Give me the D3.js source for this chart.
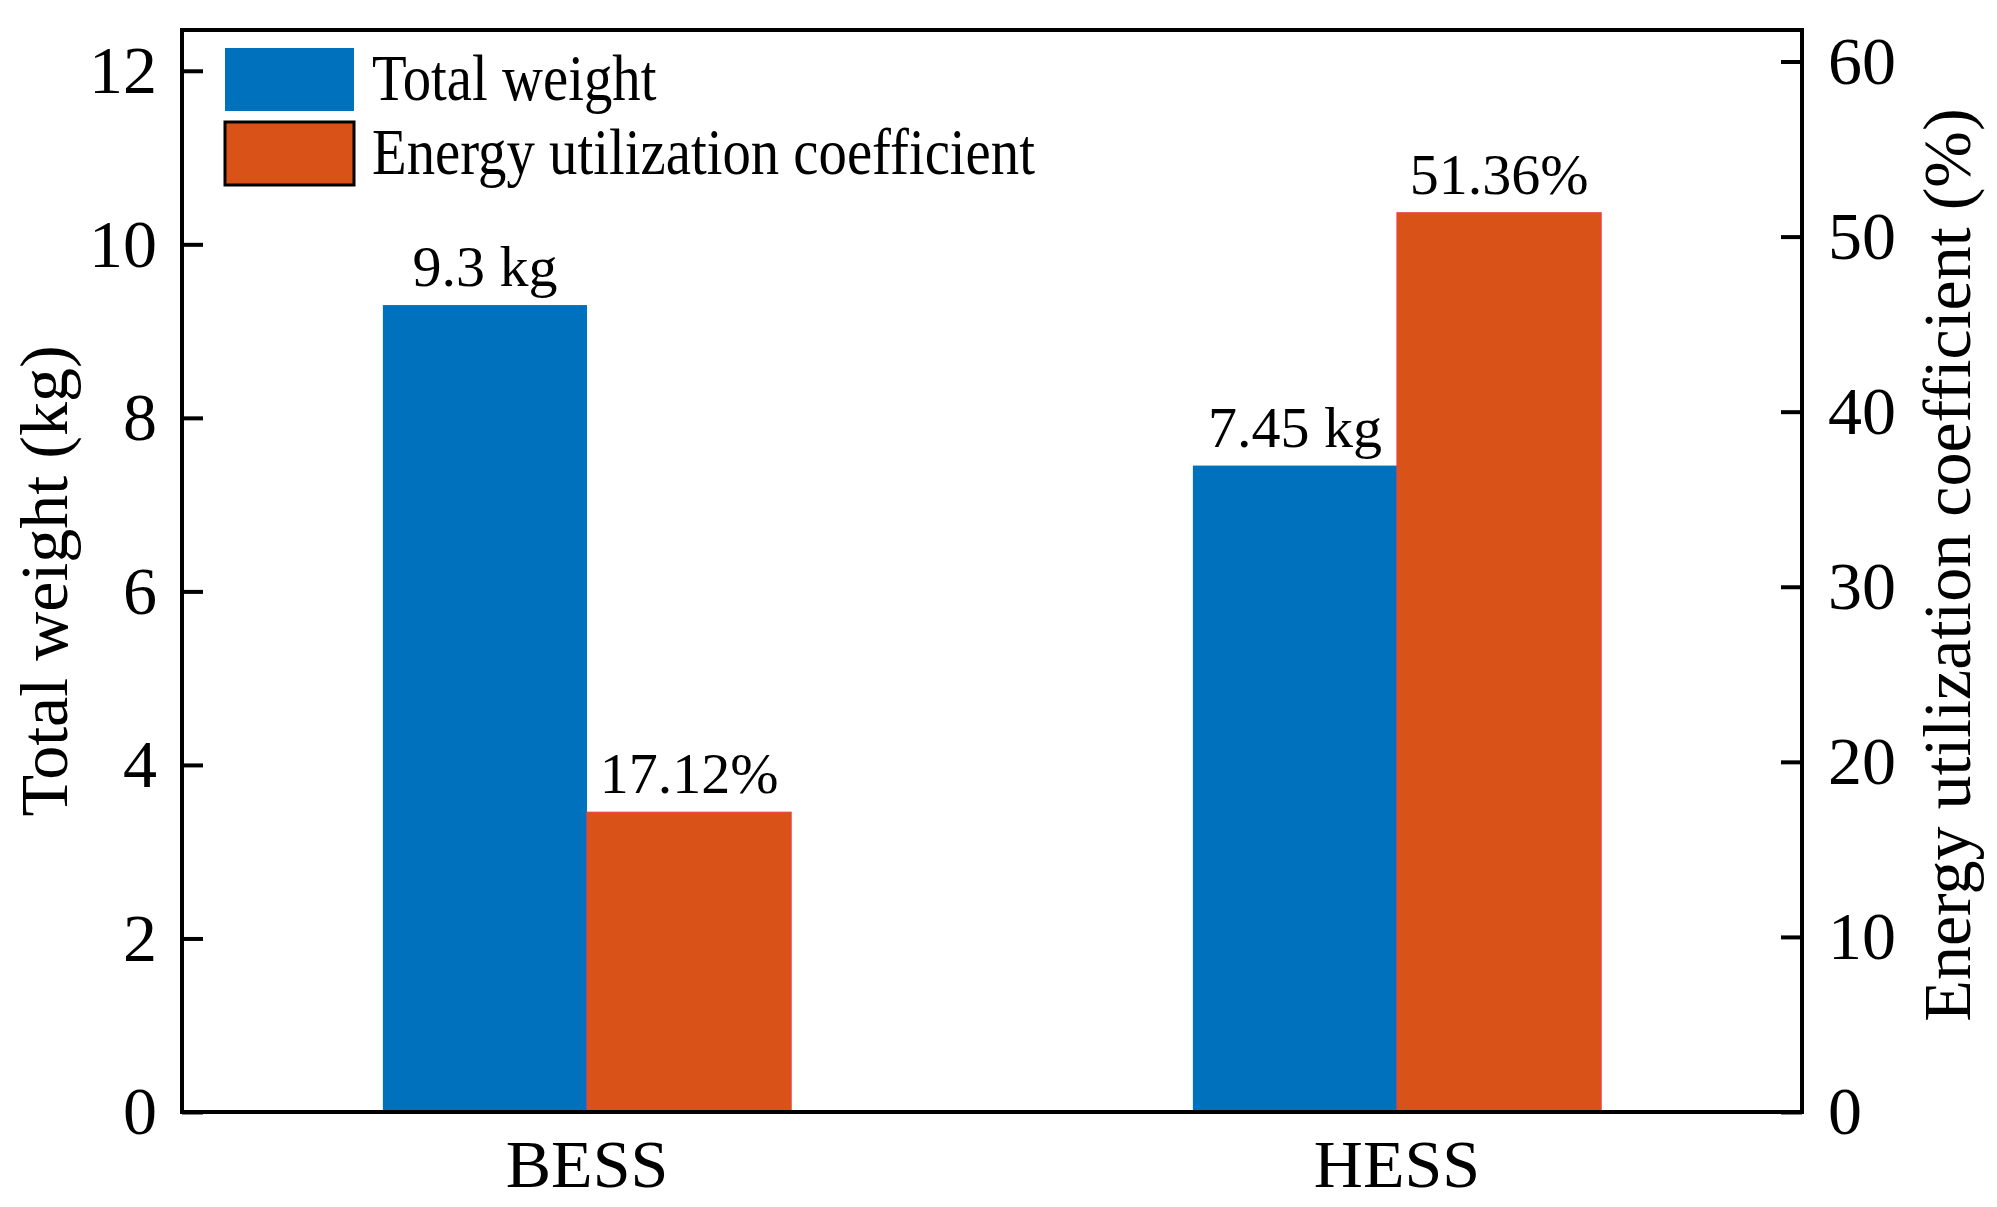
<!DOCTYPE html>
<html>
<head>
<meta charset="utf-8">
<script src="https://cdn.jsdelivr.net/npm/d3@7"></script>
<style>
	body { margin: 0; background: #fff; }
	text { font-family: 'Liberation Serif', 'Times New Roman', serif; fill: #000; }
</style>
</head>
<body>
<div id="chart"></div>
<script>
'use strict';

// data
const categories = ['BESS', 'HESS'];
const seriesNames = ['Total weight', 'Energy utilization coefficient'];
const totalWeight = [9.3, 7.45];           // kg, left axis
const energyCoeff = [17.12, 51.36];        // %, right axis
const weightLabels = ['9.3 kg', '7.45 kg'];
const coeffLabels = ['17.12%', '51.36%'];
const leftTicks = [0, 2, 4, 6, 8, 10, 12];
const rightTicks = [0, 10, 20, 30, 40, 50, 60];

const colors = ['#0072BD', '#D95319'];

const W = 1997, H = 1207;
const plot = { left: 182, right: 1802, top: 30, bottom: 1112 };

var svg = d3.select('#chart').append('svg')
	.attr('width', W)
	.attr('height', H);

// scales
var x0 = d3.scaleBand()
	.domain(categories)
	.range([plot.left, plot.right])
	.paddingInner(0.496)
	.paddingOuter(0.248);

var x1 = d3.scaleBand()
	.domain(seriesNames)
	.range([0, x0.bandwidth()]);

var yLeft = d3.scaleLinear()
	.domain([0, 12.47])
	.range([plot.bottom, plot.top]);

var yRight = d3.scaleLinear()
	.domain([0, 61.8])
	.range([plot.bottom, plot.top]);

// bars
var rows = categories.map(function(c, i) {
	return { cat: c, w: totalWeight[i], e: energyCoeff[i], wl: weightLabels[i], el: coeffLabels[i] };
});

var groups = svg.append('g').selectAll('g')
	.data(rows)
	.enter().append('g')
	.attr('transform', function(d) { return 'translate(' + x0(d.cat) + ',0)'; });

groups.append('rect')
	.attr('x', x1(seriesNames[0]))
	.attr('width', x1.bandwidth())
	.attr('y', function(d) { return yLeft(d.w); })
	.attr('height', function(d) { return yLeft(0) - yLeft(d.w); })
	.style('fill', colors[0]);

groups.append('rect')
	.attr('x', x1(seriesNames[1]))
	.attr('width', x1.bandwidth())
	.attr('y', function(d) { return yRight(d.e); })
	.attr('height', function(d) { return yRight(0) - yRight(d.e); })
	.style('fill', colors[1])
	.style('stroke', '#ee4040')
	.style('stroke-width', 1.2);

// value labels
groups.append('text')
	.attr('x', x1(seriesNames[0]) + x1.bandwidth() / 2)
	.attr('y', function(d) { return yLeft(d.w) - 19; })
	.style('text-anchor', 'middle')
	.style('font-size', '58px')
	.text(function(d) { return d.wl; });

groups.append('text')
	.attr('x', x1(seriesNames[1]) + x1.bandwidth() / 2)
	.attr('y', function(d) { return yRight(d.e) - 19; })
	.style('text-anchor', 'middle')
	.style('font-size', '58px')
	.text(function(d) { return d.el; });

// axes
var leftAxis = d3.axisLeft(yLeft)
	.tickValues(leftTicks)
	.tickSizeInner(-21)
	.tickSizeOuter(0)
	.tickPadding(25);
var gl = svg.append('g')
	.attr('transform', 'translate(' + plot.left + ',0)')
	.call(leftAxis);

var rightAxis = d3.axisRight(yRight)
	.tickValues(rightTicks)
	.tickSizeInner(-21)
	.tickSizeOuter(0)
	.tickPadding(26);
var gr = svg.append('g')
	.attr('transform', 'translate(' + plot.right + ',0)')
	.call(rightAxis);

var bottomAxis = d3.axisBottom(x0)
	.tickSize(0)
	.tickPadding(27);
var gb = svg.append('g')
	.attr('transform', 'translate(0,' + plot.bottom + ')')
	.call(bottomAxis);

[gl, gr, gb].forEach(function(g) {
	g.select('.domain').remove();
	g.selectAll('line').style('stroke', '#000').style('stroke-width', 4);
	g.selectAll('text')
		.style('font-family', "'Liberation Serif', 'Times New Roman', serif")
		.style('font-size', '68px')
		.style('fill', '#000');
});

// box
svg.append('rect')
	.attr('x', plot.left)
	.attr('y', plot.top)
	.attr('width', plot.right - plot.left)
	.attr('height', plot.bottom - plot.top)
	.style('fill', 'none')
	.style('stroke', '#000')
	.style('stroke-width', 4);

// axis titles
svg.append('text')
	.attr('transform', 'translate(67,581) rotate(-90)')
	.style('text-anchor', 'middle')
	.style('font-size', '68px')
	.text('Total weight (kg)');

svg.append('text')
	.attr('transform', 'translate(1970,565) rotate(-90)')
	.style('text-anchor', 'middle')
	.style('font-size', '68px')
	.text('Energy utilization coefficient (%)');

// legend
var legend = svg.append('g');
var legendRows = [
	{ name: seriesNames[0], color: colors[0], y: 48, border: false },
	{ name: seriesNames[1], color: colors[1], y: 122, border: true }
];
legendRows.forEach(function(r) {
	legend.append('rect')
		.attr('x', 225)
		.attr('y', r.y)
		.attr('width', 129)
		.attr('height', 63)
		.style('fill', r.color)
		.style('stroke', r.border ? '#000' : 'none')
		.style('stroke-width', 3);
	legend.append('text')
		.attr('transform', 'translate(372,' + (r.y + 52) + ') scale(0.86,1)')
		.style('font-size', '66px')
		.text(r.name);
});
</script>
</body>
</html>
